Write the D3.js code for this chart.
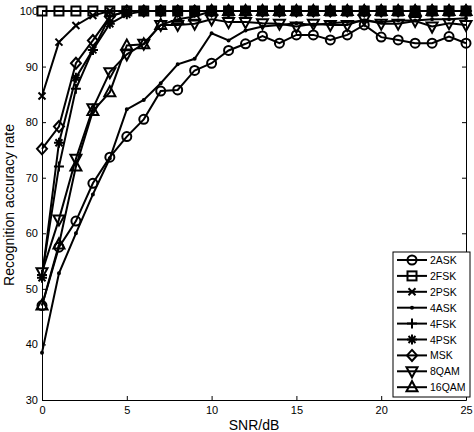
<!DOCTYPE html><html><head><meta charset="utf-8"><script src="https://cdn.jsdelivr.net/npm/d3@7"></script>
<style>body{margin:0;background:#fff}text{font-family:"Liberation Sans",Arial,sans-serif}</style></head><body><svg id="c" width="474" height="432"></svg><script>
const snr=d3.range(0,26);
const names=["2ASK","2FSK","2PSK","4ASK","4FSK","4PSK","MSK","8QAM","16QAM"];
const ask2=[47,57.5,62.2,69,73.7,77.4,80.5,85.6,85.8,89.3,90.6,92.9,94.1,95.5,94.2,95.7,95.7,94.8,95.7,97.5,95.3,94.8,94.2,94.2,95.4,94.2];
const fsk2=snr.map(()=>100);
const psk2=[84.7,94.4,97.4,99.2,100,100,100,100,100,100,100,100,100,100,100,100,100,100,100,100,100,100,100,100,100,100];
const ask4=[38.5,52.8,60,67,73.5,82.3,84,87,90.4,91.4,96,94.7,96.5,97.2,97.5,97.8,97.5,97.8,98,98.2,98,98.3,98.3,98.5,98.5,98.7];
const fsk4=[52.5,72,86,93,99,100,100,100,100,100,100,100,100,100,100,100,100,100,100,100,100,100,100,100,100,100];
const psk4=[52,76.3,88,93,97.7,99.4,100,100,100,100,100,100,100,100,100,100,100,100,100,100,100,100,100,100,100,100];
const msk=[75.2,79.2,90.6,94.7,99,100,100,100,100,100,100,100,100,100,100,100,100,100,100,100,100,100,100,100,100,100];
const qam8=[53,62.5,73.4,82.5,89,92.2,94.1,97.5,97.5,97.7,98.5,98,98,97.8,97.7,97.2,97.7,97.5,97.5,98.5,97.7,97.7,98.2,97.2,97.8,97.5];
const qam16=[47,58,72,82,85.4,93.8,94,97.5,98.5,99,100,100,100,100,100,100,100,100,100,100,100,100,100,100,100,100];
const series=[ask2,fsk2,psk2,ask4,fsk4,psk4,msk,qam8,qam16];
const markers=["circle","square","x","dot","plus","star","diamond","tdown","tup"];
const xTicks=[0,5,10,15,20,25], yTicks=[30,40,50,60,70,80,90,100];
const svg=d3.select("#c");
const x=d3.scaleLinear().domain([0,25]).range([42,466]);
const y=d3.scaleLinear().domain([30,100]).range([400,11]);
svg.append("g").attr("transform","translate(0,400)").call(d3.axisBottom(x).tickValues(xTicks).tickSizeInner(-4).tickSizeOuter(0).tickPadding(6)).call(g=>g.selectAll("text").attr("font-size",11));
svg.append("g").attr("transform","translate(42,0)").call(d3.axisLeft(y).tickValues(yTicks).tickSizeInner(-4).tickSizeOuter(0).tickPadding(4)).call(g=>g.selectAll("text").attr("font-size",11));
svg.append("g").attr("transform","translate(466,0)").call(d3.axisRight(y).tickValues(yTicks).tickSizeInner(-4).tickSizeOuter(0).tickFormat(""));
svg.append("line").attr("x1",42).attr("x2",466).attr("y1",11).attr("y2",11).attr("stroke","#000");
svg.selectAll(".domain").attr("stroke","#000");
function marker(g,type,cx,cy){
 const s=4.5;
 if(type==="circle")g.append("circle").attr("cx",cx).attr("cy",cy).attr("r",s).attr("fill","none");
 else if(type==="square")g.append("rect").attr("x",cx-s).attr("y",cy-s).attr("width",2*s).attr("height",2*s).attr("fill","none");
 else if(type==="x")g.append("path").attr("d",`M${cx-3.5},${cy-3.5}L${cx+3.5},${cy+3.5}M${cx-3.5},${cy+3.5}L${cx+3.5},${cy-3.5}`);
 else if(type==="dot")g.append("circle").attr("cx",cx).attr("cy",cy).attr("r",1).attr("fill","#000");
 else if(type==="plus")g.append("path").attr("d",`M${cx-5},${cy}L${cx+5},${cy}M${cx},${cy-5}L${cx},${cy+5}`);
 else if(type==="star")g.append("path").attr("d",`M${cx-5},${cy}L${cx+5},${cy}M${cx},${cy-5}L${cx},${cy+5}M${cx-3.5},${cy-3.5}L${cx+3.5},${cy+3.5}M${cx-3.5},${cy+3.5}L${cx+3.5},${cy-3.5}`);
 else if(type==="diamond")g.append("path").attr("d",`M${cx},${cy-5.5}L${cx+5},${cy}L${cx},${cy+5.5}L${cx-5},${cy}Z`).attr("fill","none");
 else if(type==="tdown")g.append("path").attr("d",`M${cx-5.5},${cy-4}L${cx+5.5},${cy-4}L${cx},${cy+6}Z`).attr("fill","none");
 else if(type==="tup")g.append("path").attr("d",`M${cx-5.5},${cy+4}L${cx+5.5},${cy+4}L${cx},${cy-6}Z`).attr("fill","none");
}
const line=d3.line().x((d,i)=>x(snr[i])).y(d=>y(d));
series.forEach((s,k)=>{
 const g=svg.append("g").attr("stroke","#000").attr("stroke-width",2);
 g.append("path").attr("d",line(s)).attr("fill","none");
 s.forEach((v,i)=>marker(g,markers[k],x(snr[i]),y(v)));
});
const lg=svg.append("g");
lg.append("rect").attr("x",393).attr("y",252).attr("width",77).attr("height",145).attr("fill","#fff").attr("stroke","#000");
names.forEach((n,i)=>{
 const yy=260+i*15.9;
 const g=lg.append("g").attr("stroke","#000").attr("stroke-width",2);
 g.append("line").attr("x1",397).attr("x2",427).attr("y1",yy).attr("y2",yy);
 marker(g,markers[i],412,yy);
 lg.append("text").attr("x",430).attr("y",yy+4).attr("font-size",10.5).text(n);
});
svg.append("text").attr("x",254).attr("y",430).attr("text-anchor","middle").attr("font-size",14).text("SNR/dB");
svg.append("text").attr("transform","translate(14,205) rotate(-90)").attr("text-anchor","middle").attr("font-size",14).text("Recognition accuracy rate");
</script></body></html>
